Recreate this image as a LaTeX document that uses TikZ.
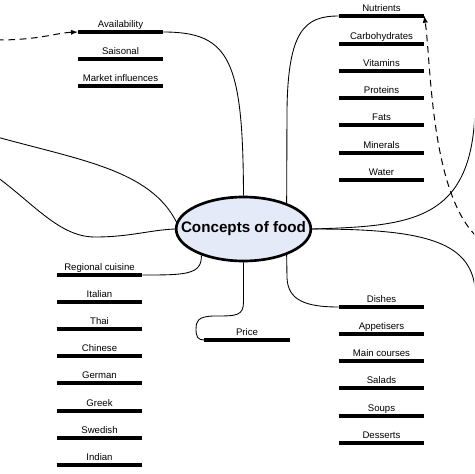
\documentclass[tikz,border=0pt]{standalone}
\usepackage{fontspec}
\setmainfont{Liberation Sans}
\usetikzlibrary{shapes.geometric}
\definecolor{corefill}{RGB}{228,234,247}

\tikzset{
  topic/.style={font=\fontsize{7.2}{8}\selectfont, anchor=south, inner xsep=0pt, inner ysep=3pt, minimum width=63.75pt, text height=5.2pt, text depth=0pt},
  bar/.style={line width=2.6pt},
  link/.style={line width=0.65pt},
  hint/.style={line width=0.75pt, dash pattern=on 5pt off 3.5pt, -latex}
}

\begin{document}
\begin{tikzpicture}[x=0.75pt,y=0.75pt,yscale=-1,xscale=1]
\useasboundingbox (0,0) rectangle (474,474);
\clip (0,0) rectangle (474,474);

% centre
\node[ellipse, draw, line width=2pt, fill=corefill, minimum width=101pt, minimum height=48pt, inner xsep=-12pt, inner ysep=8pt, font=\bfseries\fontsize{11.4}{13}\selectfont] (core) at (243.5,229) {Concepts of food};

% topic lists
\foreach \nm/\txt/\y in {av/Availability/32, sais/Saisonal/59, mark/Market influences/86}
  \node[topic] (\nm) at (120.5,\y) {\txt};
\foreach \nm/\txt/\y in {nutr/Nutrients/16, carb/Carbohydrates/44, vit/Vitamins/71, prot/Proteins/98, fats/Fats/125, mins/Minerals/153, water/Water/180}
  \node[topic] (\nm) at (381.5,\y) {\txt};
\foreach \nm/\txt/\y in {reg/Regional cuisine/275, ital/Italian/302, thai/Thai/329, chin/Chinese/356, germ/German/383, greek/Greek/411, swed/Swedish/438, ind/Indian/465}
  \node[topic] (\nm) at (99.5,\y) {\txt};
\foreach \nm/\txt/\y in {dish/Dishes/307, appe/Appetisers/334, main/Main courses/361, sal/Salads/388, soup/Soups/416, dess/Desserts/443}
  \node[topic] (\nm) at (381.5,\y) {\txt};
\node[topic] (price) at (247,340) {Price};

\foreach \nm in {av,sais,mark,nutr,carb,vit,prot,fats,mins,water,reg,ital,thai,chin,germ,greek,swed,ind,dish,appe,main,sal,soup,dess,price}
  \draw[bar] (\nm.south west) -- (\nm.south east);

% loose ends off the page
\coordinate (offNW) at (-3,137);
\coordinate (offW) at (-3,177);
\coordinate (offNE) at (475,110);
\coordinate (offE) at (475,288);
\coordinate (offA) at (-3,40);
\coordinate (offB) at (476,236);

% branches
\draw[link] (av.south east) .. controls (230,32) and (243,60) .. (core.north);
\draw[link] (nutr.south west) .. controls (305,16) and (288,30) .. (287,110) -- (core.31);
\draw[link] (core.-31) -- (287,278) .. controls (288,300) and (305,307) .. (dish.south west);
\draw[link] (core.212) .. controls (202,275) and (185,275) .. (reg.south east);
\draw[link] (core.south) -- (243.5,302) .. controls (243.5,316) and (236,316) .. (215,316) .. controls (197,316) and (196,322) .. (196,329) .. controls (196,337) and (198,340) .. (price.south west);
\draw[link] (offNW) .. controls (80,160) and (150,170) .. (core.174);
\draw[link] (offW) .. controls (35,205) and (60,237) .. (95,237) .. controls (130,237) and (150,230) .. (core.west);
\draw[link] (core.east) .. controls (410,226) and (472,222) .. (offNE);
\draw[link] (core.east) .. controls (420,229) and (470,240) .. (offE);

% dashed hints
\draw[hint] (offA) .. controls (40,40) and (55,33) .. (av.south west);
\draw[hint] (offB) .. controls (430,190) and (431,60) .. (nutr.south east);

\end{tikzpicture}
\end{document}
